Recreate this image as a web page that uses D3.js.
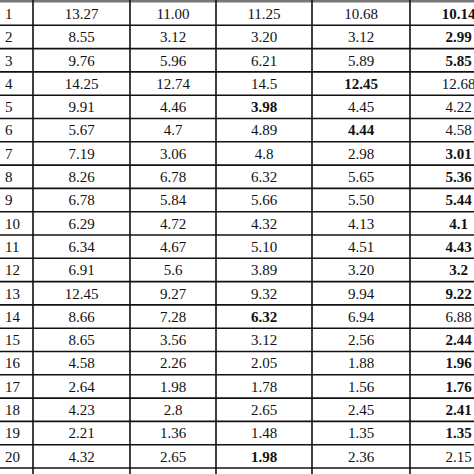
<!DOCTYPE html>
<html><head><meta charset="utf-8">
<script src="https://cdn.jsdelivr.net/npm/d3@7"></script>
<style>body{margin:0;background:#fff;overflow:hidden}</style>
</head><body><div id="tbl"></div>
<script>
const WIDTH = 474, HEIGHT = 474;
// row labels and column values
const rowIds = d3.range(1, 21).map(String);
const col1 = ["13.27","8.55","9.76","14.25","9.91","5.67","7.19","8.26","6.78","6.29","6.34","6.91","12.45","8.66","8.65","4.58","2.64","4.23","2.21","4.32"];
const col2 = ["11.00","3.12","5.96","12.74","4.46","4.7","3.06","6.78","5.84","4.72","4.67","5.6","9.27","7.28","3.56","2.26","1.98","2.8","1.36","2.65"];
const col3 = ["11.25","3.20","6.21","14.5","3.98","4.89","4.8","6.32","5.66","4.32","5.10","3.89","9.32","6.32","3.12","2.05","1.78","2.65","1.48","1.98"];
const col4 = ["10.68","3.12","5.89","12.45","4.45","4.44","2.98","5.65","5.50","4.13","4.51","3.20","9.94","6.94","2.56","1.88","1.56","2.45","1.35","2.36"];
const col5 = ["10.14","2.99","5.85","12.68","4.22","4.58","3.01","5.36","5.44","4.1","4.43","3.2","9.22","6.88","2.44","1.96","1.76","2.41","1.35","2.15"];
// bold cells: [row index, column index (1-5)]
const boldCells = [[0,5],[1,5],[2,5],[3,4],[4,3],[5,4],[6,5],[7,5],[8,5],[9,5],[10,5],[11,5],[12,5],[13,3],[14,5],[15,5],[16,5],[17,5],[18,5],[19,3]];
const colEdges = [0, 33, 130, 216, 312, 410, 507];

const cols = [rowIds, col1, col2, col3, col4, col5];
const svg = d3.select("#tbl").append("svg").attr("width", WIDTH).attr("height", HEIGHT);

const Y = d3.scaleBand().domain(d3.range(21)).range([2, 2 + 21 * 23.3]);
const isBold = (r, c) => boldCells.some(b => b[0] === r && b[1] === c);

// top gray band
svg.append("rect").attr("x", 0).attr("y", 0).attr("width", WIDTH).attr("height", 2.5).attr("fill", "#777");

// horizontal lines
svg.selectAll("line.h").data(d3.range(1, 21)).enter().append("line")
  .attr("x1", 0).attr("x2", WIDTH)
  .attr("y1", d => Y(d)).attr("y2", d => Y(d))
  .attr("stroke", "#111").attr("stroke-width", 1.6);

// vertical lines
svg.selectAll("line.v").data(colEdges.slice(1, 6)).enter().append("line")
  .attr("x1", d => d).attr("x2", d => d).attr("y1", 0).attr("y2", HEIGHT)
  .attr("stroke", "#111").attr("stroke-width", 1.6);

cols.forEach((col, c) => {
  svg.selectAll("text.c" + c).data(col).enter().append("text")
    .attr("x", c === 0 ? 5 : (colEdges[c] + colEdges[c + 1]) / 2)
    .attr("y", (d, r) => Y(r) + Y.bandwidth() / 2)
    .attr("dy", "0.35em")
    .attr("text-anchor", c === 0 ? "start" : "middle")
    .attr("font-family", "'Liberation Serif', 'DejaVu Serif', serif")
    .attr("font-size", 15)
    .attr("font-weight", (d, r) => isBold(r, c) ? "bold" : "normal")
    .attr("fill", "#111")
    .text(d => d);
});
</script></body></html>
